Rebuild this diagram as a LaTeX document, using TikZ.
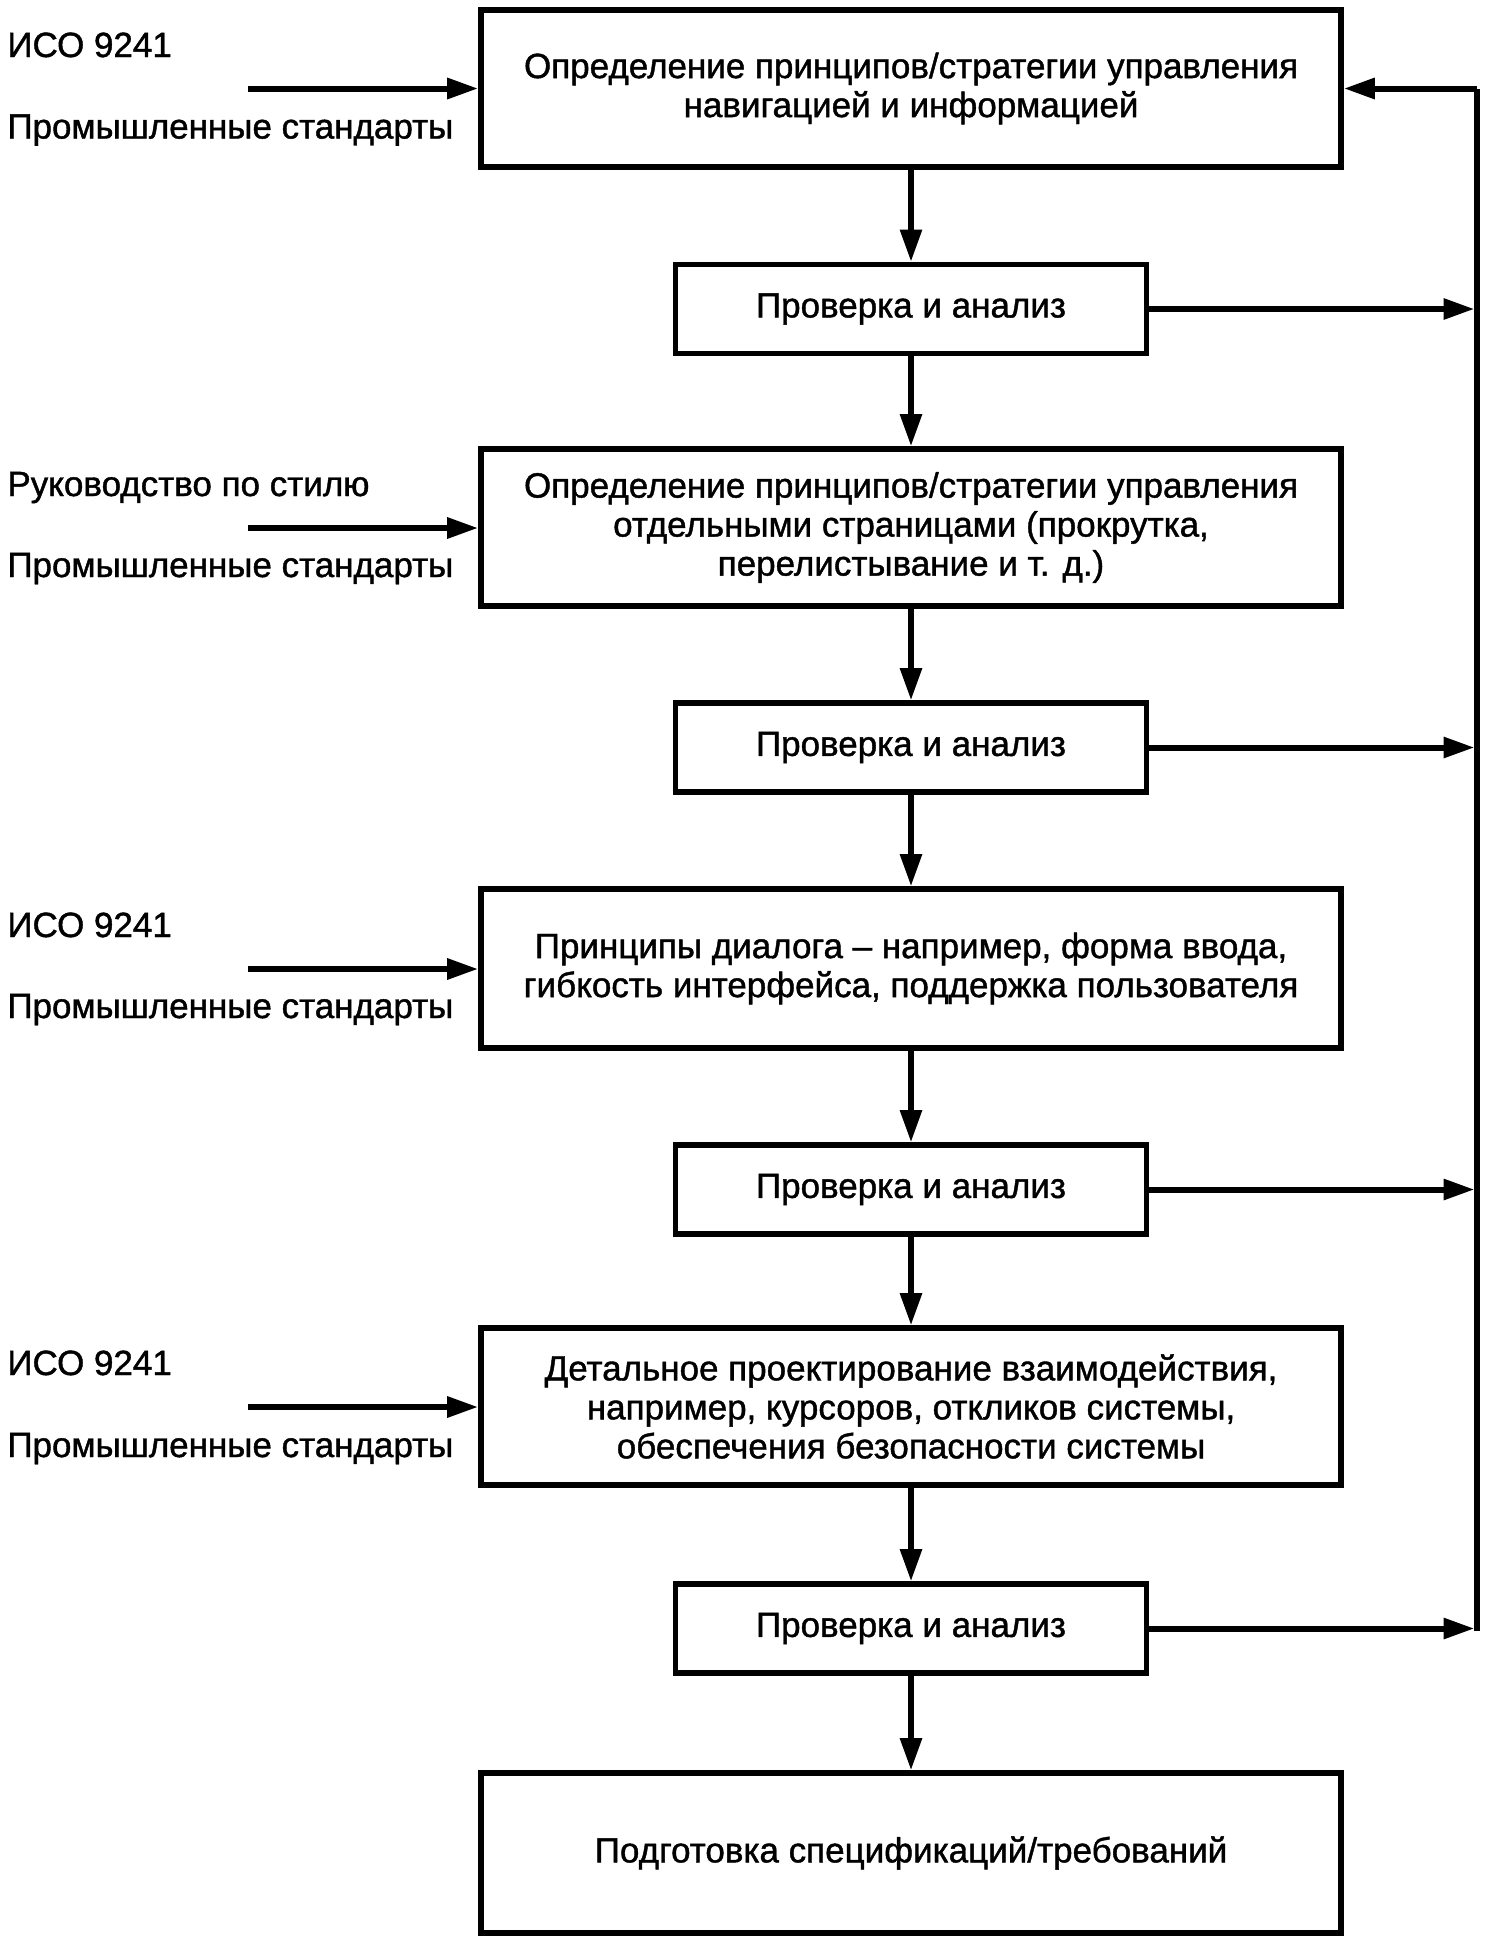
\documentclass[tikz,border=0pt]{standalone}
\usepackage{fontspec}
\setmainfont{Liberation Sans}[FakeBold=1.2]
\usetikzlibrary{arrows.meta}
\begin{document}
\begin{tikzpicture}[x=0.5pt,y=-0.5pt,
  txt/.style={font=\fontsize{17.5}{19.5}\selectfont},
  bigbox/.style={draw, line width=2.8pt, minimum width=430pt, align=center, inner sep=0pt, txt},
  chkbox/.style={draw, line width=2.8pt, minimum width=235.5pt, minimum height=44.5pt, inner sep=0pt, txt},
  lbl/.style={anchor=base west, inner sep=0pt, txt},
  vline/.style={line width=2.8pt, -{Triangle[length=16pt,width=10.5pt]}},
  hline/.style={line width=3pt, -{Triangle[length=15.5pt,width=10pt]}},
  fline/.style={line width=2.8pt, line join=miter}]
\useasboundingbox (0,0) rectangle (1485,1938);

% main boxes
\node[bigbox, minimum height=78.5pt] (b1) at (911,88.5) {Определение принципов/стратегии управления\\навигацией и информацией};
\node[chkbox] (c1) at (911,309) {Проверка и анализ};
\node[bigbox, minimum height=78.5pt] (b2) at (911,527.5) {Определение принципов/стратегии управления\\отдельными страницами (прокрутка,\\перелистывание и т. д.)};
\node[chkbox] (c2) at (911,747.5) {Проверка и анализ};
\node[bigbox, minimum height=79.5pt] (b3) at (911,968.5) {Принципы диалога -- например, форма ввода,\\гибкость интерфейса, поддержка пользователя};
\node[chkbox] (c3) at (911,1189.5) {Проверка и анализ};
\node[bigbox, minimum height=78.5pt] (b4) at (911,1406.5) {Детальное проектирование взаимодействия,\\например, курсоров, откликов системы,\\обеспечения безопасности системы};
\node[chkbox] (c4) at (911,1628.5) {Проверка и анализ};
\node[bigbox, minimum height=80pt] (b5) at (911,1853) {Подготовка спецификаций/требований};

% vertical connectors
\draw[vline] (b1) -- (c1);
\draw[vline] (c1) -- (b2);
\draw[vline] (b2) -- (c2);
\draw[vline] (c2) -- (b3);
\draw[vline] (b3) -- (c3);
\draw[vline] (c3) -- (b4);
\draw[vline] (b4) -- (c4);
\draw[vline] (c4) -- (b5);

% feedback line on the right
\coordinate (rx) at (1474.5,0);
\coordinate (rtop) at (1477,88.5);
\coordinate (rbot) at (1477,1631);
\draw[fline] (rbot) -- (rtop) -- (1477,88.5);
\draw[hline] (rtop) -- (b1.east);
\draw[hline] (c1.east) -- (c1.east -| rx);
\draw[hline] (c2.east) -- (c2.east -| rx);
\draw[hline] (c3.east) -- (c3.east -| rx);
\draw[hline] (c4.east) -- (c4.east -| rx);

% inputs on the left
\coordinate (l1) at (248,88.5);
\coordinate (l2) at (248,528);
\coordinate (l3) at (248,969);
\coordinate (l4) at (248,1407);
\draw[hline] (l1) -- (b1.west |- l1);
\draw[hline] (l2) -- (b2.west |- l2);
\draw[hline] (l3) -- (b3.west |- l3);
\draw[hline] (l4) -- (b4.west |- l4);

\node[lbl] (t1a) at (7,57) {ИСО 9241};
\node[lbl] (t1b) at (7,138.5) {Промышленные стандарты};
\node[lbl] (t2a) at (7,496) {Руководство по стилю};
\node[lbl] (t2b) at (7,577) {Промышленные стандарты};
\node[lbl] (t3a) at (7,937) {ИСО 9241};
\node[lbl] (t3b) at (7,1018) {Промышленные стандарты};
\node[lbl] (t4a) at (7,1375) {ИСО 9241};
\node[lbl] (t4b) at (7,1457) {Промышленные стандарты};
\end{tikzpicture}
\end{document}
